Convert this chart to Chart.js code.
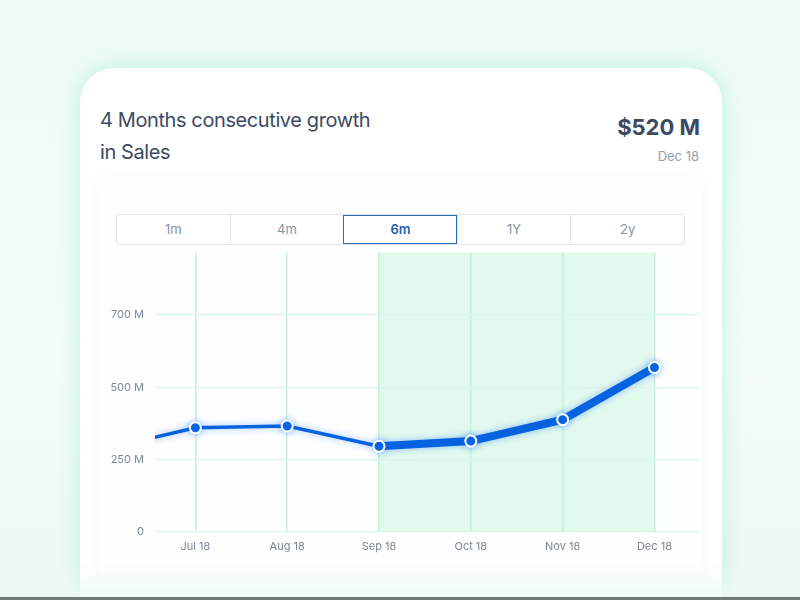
<!DOCTYPE html>
<html>
<head>
<meta charset="utf-8">
<script src="https://cdn.jsdelivr.net/npm/chart.js@4.4.1/dist/chart.umd.min.js"></script>
<style>
  html, body { margin: 0; padding: 0; }
  body {
    width: 800px; height: 600px; overflow: hidden; position: relative;
    background: linear-gradient(180deg, #eefbf5 0%, #f3fcf8 60%, #eef9f3 100%);
    font-family: Inter, Roboto, "Noto Sans", sans-serif;
  }
  .card {
    position: absolute; left: 80px; top: 68px; width: 642px; height: 600px;
    background: #fff; border-radius: 34px;
    box-shadow: 0 0 22px rgba(120, 235, 185, 0.45);
  }
  .panel {
    position: absolute; left: 100px; top: 176px; width: 602px; height: 440px;
    background: #fdfefe; border-radius: 10px;
    box-shadow: 0 0 14px rgba(60, 90, 80, 0.04);
  }
  .title {
    position: absolute; left: 100px; top: 104px;
    font-size: 20px; line-height: 32px; color: #3b4a62; letter-spacing: -0.4px;
  }
  .total {
    position: absolute; right: 100px; top: 114px; text-align: right;
    font-size: 22px; font-weight: 700; color: #3b4a62;
  }
  .date {
    position: absolute; right: 101px; top: 148px;
    font-size: 13px; color: #95a0b0;
  }
  .tabs {
    position: absolute; left: 116px; top: 214px; width: 569px; height: 31px;
    display: flex; border: 1px solid #dfe5ec; border-radius: 3px; box-sizing: border-box;
    background: #fff; z-index: 2;
  }
  .tabs div {
    flex: 1; text-align: center; line-height: 29px; font-size: 13px; color: #8593a6;
    border-left: 1px solid #dfe5ec;
  }
  .tabs div:first-child { border-left: none; }
  .tabs div.on {
    color: #1f5fae; font-weight: 600; outline: 1px solid #2c6cb5; outline-offset: -1px;
  }
  .wrap { position: absolute; left: 100px; top: 235px; width: 606px; height: 327px; }
  .fade {
    position: absolute; left: 0; top: 562px; width: 800px; height: 36px;
    background: linear-gradient(180deg, rgba(246,253,250,0) 0%, rgba(236,250,243,0.9) 100%);
  }
  .base { position: absolute; left: 0; top: 597px; width: 800px; height: 3px; background: #6f7c76; }
</style>
</head>
<body>
<div class="card"></div>
<div class="panel"></div>
<div class="title">4 Months consecutive growth<br>in Sales</div>
<div class="total">$520 M</div>
<div class="date">Dec 18</div>
<div class="tabs">
  <div>1m</div><div>4m</div><div class="on">6m</div><div>1Y</div><div>2y</div>
</div>
<div class="wrap"><canvas id="salesChart"></canvas></div>
<div class="fade"></div>
<div class="base"></div>

<script>
// months on the x axis (Jun 18 only feeds the line entering from the left edge)
const months = ['Jun 18', 'Jul 18', 'Aug 18', 'Sep 18', 'Oct 18', 'Nov 18', 'Dec 18'];
// sales, millions
const sales = [285, 360, 366, 296, 314, 388, 568];
// y ticks and the text shown for them
const yTickValues = [0, 250, 500, 750];
const yTickLabels = ['0', '250 M', '500 M', '700 M'];
// highlighted months (the "4 months" growth)
const highlightFrom = 'Sep 18';
const highlightTo = 'Dec 18';

const blue = '#0762e0';
const firstShown = 1;
const thickFrom = months.indexOf(highlightFrom);

// green band behind the growth months
const bandPlugin = {
  id: 'band',
  beforeDraw(chart) {
    const { ctx, chartArea } = chart;
    const x = chart.scales.x;
    const x0 = x.getPixelForValue(months.indexOf(highlightFrom));
    const x1 = x.getPixelForValue(months.indexOf(highlightTo));
    ctx.save();
    ctx.fillStyle = '#e2f9ee';
    ctx.fillRect(x0, chartArea.top, x1 - x0, chartArea.bottom - chartArea.top);
    ctx.restore();
  }
};

// soft blue glow round the line
const glowPlugin = {
  id: 'glow',
  beforeDatasetsDraw(chart) {
    const ctx = chart.ctx;
    ctx.save();
    ctx.shadowColor = 'rgba(30, 120, 255, 0.45)';
    ctx.shadowBlur = 7;
  },
  afterDatasetsDraw(chart) {
    chart.ctx.restore();
  }
};

new Chart(document.getElementById('salesChart'), {
  type: 'line',
  data: {
    datasets: [{
      data: months.map((m, i) => ({ x: i, y: sales[i] })),
      borderColor: blue,
      backgroundColor: blue,
      borderWidth: 3.5,
      tension: 0,
      pointRadius: ctx => ctx.dataIndex < firstShown ? 0 : 5.5,
      pointBorderColor: '#fff',
      pointBorderWidth: 2,
      pointBackgroundColor: blue,
      segment: {
        borderWidth: ctx => ctx.p0DataIndex >= thickFrom ? 8 : 3.5
      }
    }]
  },
  options: {
    responsive: true,
    maintainAspectRatio: false,
    animation: false,
    layout: { padding: { top: 6, right: 2, left: 0, bottom: 0 } },
    plugins: { legend: { display: false }, tooltip: { enabled: false } },
    scales: {
      x: {
        type: 'linear',
        min: firstShown - 0.44,
        max: months.length - 1 + 0.48,
        afterBuildTicks: s => { s.ticks = months.slice(firstShown).map((m, i) => ({ value: i + firstShown })); },
        afterFit: s => { s.height = 30; },
        ticks: {
          callback: v => months[v],
          color: '#7b8696',
          font: { family: 'Inter, Roboto, sans-serif', size: 11 },
          padding: 8,
          maxRotation: 0
        },
        grid: { color: '#c8efdc', lineWidth: 1.5, drawTicks: false },
        border: { display: false }
      },
      y: {
        min: 0,
        max: 965,
        afterBuildTicks: s => { s.ticks = yTickValues.map(v => ({ value: v })); },
        afterFit: s => { s.width = 55; },
        ticks: {
          callback: (v, i) => yTickLabels[i],
          color: '#7b8696',
          font: { family: 'Inter, Roboto, sans-serif', size: 11 },
          padding: 11
        },
        grid: { color: '#dcf5ea', lineWidth: 1.2, drawTicks: false },
        border: { display: false }
      }
    }
  },
  plugins: [bandPlugin, glowPlugin]
});
</script>
</body>
</html>
